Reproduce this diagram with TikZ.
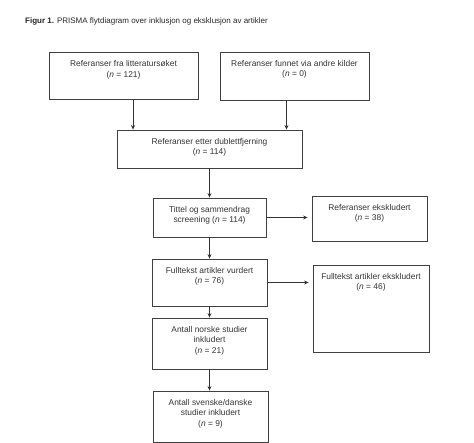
\documentclass[tikz,border=0pt]{standalone}
\usepackage{fontspec}
\setmainfont{Liberation Sans}
\usetikzlibrary{arrows.meta}
\begin{document}
\begin{tikzpicture}
[x=1pt,y=-1pt,
  boxdecorate/.style={shape=rectangle,draw=black!75,line width=0.8pt,inner sep=0pt},%
  textdecorate/.style={anchor=north,align=center,inner sep=0pt,text=black!80,
    font=\fontsize{8.4}{10.5}\selectfont},%
  arrowdecorate/.style={->,>={Stealth[length=4.5pt,width=4pt]},line width=0.8pt,draw=black!80}]
\useasboundingbox (0,0) rectangle (474,443);
%% caption
\node (title) at (25,21) [anchor=west,inner sep=0pt,text=black!85,font=\fontsize{8}{10}\selectfont]
  {\textbf{Figur 1.} PRISMA flytdiagram over inklusjon og eksklusjon av artikler};
%% boxes
\foreach \nodename/\x/\y/\w/\h/\nodetext in {
  litt/123.5/76/149/47/{Referanser fra litteratursøket\\(\textit{n} = 121)},
  andre/294.5/76/149/48/{Referanser funnet via andre kilder\\(\textit{n} = 0)},
  dublett/209.5/149/185/38/{Referanser etter dublettfjerning\\(\textit{n} = 114)},
  screen/209.5/217.5/113/39/{Tittel og sammendrag\\screening (\textit{n} = 114)},
  eksref/369.5/218.5/115/45/{Referanser ekskludert\\(\textit{n} = 38)},
  fulltekst/209.5/282.5/115/47/{Fulltekst artikler vurdert\\(\textit{n} = 76)},
  eksfull/371/308.5/116/87/{Fulltekst artikler ekskludert\\(\textit{n} = 46)},
  norske/209.5/343.5/115/51/{Antall norske studier\\inkludert\\(\textit{n} = 21)},
  svenske/210.5/416.5/115/51/{Antall svenske/danske\\studier inkludert\\(\textit{n} = 9)}} {
  \node (\nodename) at (\x,\y) [boxdecorate,minimum width=\w pt,minimum height=\h pt] {};
  \node (\nodename-text) at ([yshift=-8.5pt]\nodename.north) [textdecorate] {\nodetext};
}
%% arrows
\draw[arrowdecorate] ([xshift=9.5pt]litt.south) -- ([xshift=9.5pt]litt.south |- dublett.north);
\draw[arrowdecorate] ([xshift=-8pt]andre.south) -- ([xshift=-8pt]andre.south |- dublett.north);
\foreach \startnode/\endnode in {dublett/screen, screen/fulltekst, fulltekst/norske, norske/svenske} {
  \draw[arrowdecorate] (\startnode.south) -- (\startnode.south |- \endnode.north);
}
\foreach \startnode/\endnode in {screen/eksref, fulltekst/eksfull} {
  \draw[arrowdecorate,shorten >=4pt] (\startnode.east) -- (\startnode.east -| \endnode.west);
}
\end{tikzpicture}
\end{document}
